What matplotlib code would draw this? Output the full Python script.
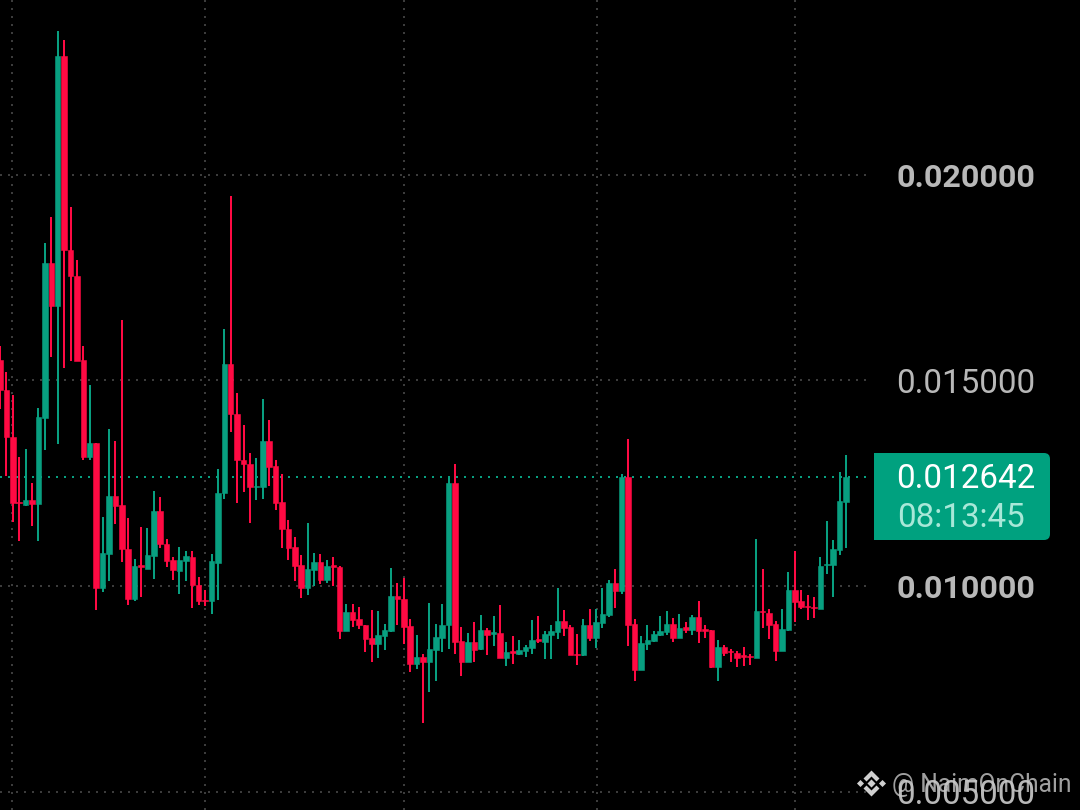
import matplotlib
matplotlib.use('Agg')
import matplotlib.pyplot as plt
from matplotlib.patches import FancyBboxPatch, Rectangle

# candle values, in millionths of a price unit
opens = [15503, 14770, 13628, 12051, 11958, 12088, 11986, 14074, 17860, 16802, 22881, 18157, 17526, 15503, 13146, 13471, 9954,
         10780, 12181, 11958, 10900, 9694, 10510, 10418, 10733, 11828, 11030, 10621, 10362, 10612, 10696, 10019, 9666,
         9644, 10566, 12249, 15388, 14174, 13058, 12977, 12411, 12411, 13535, 12912, 12039, 11375, 10938, 10502, 9951,
         10388, 10582, 10146, 10510, 10461, 8916, 9361, 9199, 9045, 8738, 8592, 8795, 8908, 9757, 9684,
         9020, 8096, 8267, 8145, 8437, 8728, 9044, 12495, 8655, 8145, 8631, 8461, 8923, 8825, 8850, 8242, 8412, 8340,
         8412, 8485, 8704, 8631, 8801, 8874, 9141, 8996, 8356, 8315, 9044, 8728, 9093, 9287, 10065, 9870, 12641,
         9068, 7951, 8582, 8655, 8801, 8874, 9068, 8728, 9004, 8923, 9239, 8947, 8923, 8024, 8510, 8421, 8364, 8315,
         8299, 8242, 9401, 9336, 9068, 8412, 8923, 9895, 9627, 9522, 9498, 9433, 10510, 10502, 10867, 12033]
closes = [14770, 13628, 12014, 12014, 12088, 11986, 14102, 17860, 16802, 22881, 18157, 17526, 15466, 13146, 13471, 9954, 10798,
          12181, 11940, 10900, 9694, 10483, 10473, 10752, 11828, 11030, 10612, 10390, 10621, 10724, 10028, 9647, 9638,
          10607, 12249, 15388, 14174, 13058, 12961, 12411, 12443, 13519, 12896, 12023, 11391, 10922, 10485, 9951, 10413,
          10582, 10146, 10485, 10469, 8916, 9361, 9175, 9053, 8722, 8592, 8811, 8932, 9757, 9693, 9013,
          8096, 8267, 8145, 8461, 8753, 9044, 12495, 8631, 8145, 8631, 8437, 8923, 8801, 8874, 8242, 8388, 8372, 8437,
          8510, 8680, 8663, 8825, 8898, 9141, 8971, 8315, 8315, 9044, 8728, 9117, 9311, 10065, 9870, 12641, 9044,
          7951, 8607, 8680, 8825, 8898, 9068, 8728, 8971, 8939, 9239, 8898, 8898, 8024, 8510, 8364, 8388, 8242, 8275,
          8267, 9384, 9368, 9044, 8412, 8947, 9895, 9603, 9482, 9490, 9465, 10478, 10543, 10891, 12057, 12642]
highs = [15837, 15206, 14631, 13127, 13332, 12496, 14334, 18343, 18974, 23484, 23261, 19206, 17925, 15837, 14891, 13480, 11689,
         13805, 13536, 16468, 11643, 10668, 11429, 11401, 12320, 12172, 11132, 10705, 10937, 10844, 10844, 10223, 9898,
         10769, 12856, 16254, 19490, 14700, 13924, 13244, 13123, 14538, 14029, 13074, 12734, 11602, 11181, 10744, 11521,
         10793, 10777, 10631, 10696, 10485, 9555, 9555, 9490, 9053, 9418, 9393, 9078, 10437, 10065, 10186,
         9190, 8801, 8340, 9579, 9068, 9554, 12665, 12957, 8996, 8850, 9117, 9287, 8971, 9263, 9530, 8631, 8777, 8680,
         8558, 9166, 9263, 8898, 9044, 9943, 9409, 9044, 8825, 9190, 9433, 9433, 9943, 10138, 10405, 12714, 13564,
         9190, 8777, 9044, 8898, 9263, 9384, 9214, 9311, 9117, 9287, 9627, 9044, 8923, 8680, 8558, 8461, 8412, 8510,
         8340, 11134, 10405, 9433, 9141, 9433, 10332, 10842, 9895, 9773, 9725, 10697, 11571, 11110, 12762, 13175]
lows = [14306, 12663, 11568, 11104, 11940, 11457, 11086, 13294, 15559, 13443, 15308, 15466, 15466, 13072, 13053, 9415, 9852,
        10121, 11503, 10594, 9527, 9638, 9731, 10409, 10176, 10919, 10473, 10158, 9805, 10130, 9462, 9527, 9508,
        9320, 9660, 12111, 13746, 12006, 12281, 11537, 12087, 12103, 12427, 11845, 10930, 10631, 10121, 9709, 9782,
        10000, 10049, 10065, 10000, 8714, 8916, 9005, 8956, 8398, 8164, 8253, 8447, 8884, 9053, 8592,
        7902, 7975, 6663, 7416, 7683, 8388, 8461, 8340, 7805, 8145, 8145, 8437, 8315, 8534, 8242, 8048, 8096, 8315,
        8267, 8340, 8607, 8218, 8218, 8704, 8777, 8315, 8072, 8291, 8655, 8485, 8971, 9239, 9457, 9797, 8534,
        7683, 7951, 8437, 8631, 8777, 8801, 8631, 8728, 8850, 8801, 8607, 8728, 8000, 7683, 8291, 8145, 8024, 8048,
        8072, 8242, 8980, 8704, 8169, 8412, 8898, 9117, 9433, 9166, 9214, 9433, 10284, 9725, 10745, 10915]

price_ticks = [0.020, 0.015, 0.010, 0.005]
price_labels = ['0.020000', '0.015000', '0.010000', '0.005000']
price_weights = ['bold', 'normal', 'bold', 'normal']
time_grid = [1.87, 32, 63, 93.1, 124]
last_price = 0.012642
countdown = '08:13:45'

GREEN = '#089F80'
RED = '#FF0A43'

fig = plt.figure(figsize=(10.8, 8.1), dpi=100, facecolor='black')
ax = fig.add_axes([0, 0, 1, 1], facecolor='black')
ax.set_xlim(0, 168.5)
ax.set_ylim(0.004555, 0.024245)
ax.axis('off')

# dotted grid, stops where the price scale starts
dots = (0, (1, 3))
for t in time_grid:
    ax.axvline(t, color='#3c3c3c', lw=1.44, linestyle=dots, zorder=1)
grid_end = 135.4 / 168.5
for p in price_ticks:
    ax.axhline(p, xmax=grid_end, color='#3c3c3c', lw=1.44, linestyle=dots, zorder=1)
ax.axhline(last_price, xmax=grid_end, color=GREEN, lw=1.44, linestyle=dots, zorder=1)

# candles
for i in range(len(opens)):
    o, c = opens[i] / 1e6, closes[i] / 1e6
    h, l = highs[i] / 1e6, lows[i] / 1e6
    col = GREEN if c >= o else RED
    ax.vlines(i, l, h, color=col, lw=1.44, zorder=2)
    ax.bar(i, abs(c - o), bottom=min(o, c), width=0.86, color=col, edgecolor=col, lw=0.4, zorder=3)

# price scale
for p, lab, w in zip(price_ticks, price_labels, price_weights):
    size = 23.2 if w == 'bold' else 23.9
    ax.annotate(lab, (1035 / 1080, p), xycoords=ax.get_yaxis_transform(), xytext=(0, -2.4),
                textcoords='offset points', ha='right', va='center',
                family='Roboto', fontsize=size, color='#b8b8b8', weight=w, zorder=4)

# overlay in pixels for the price tag and watermark
over = fig.add_axes([0, 0, 1, 1])
over.set_xlim(0, 1080)
over.set_ylim(810, 0)
over.axis('off')
over.patch.set_alpha(0)
over.add_patch(FancyBboxPatch((874, 453), 176, 87, boxstyle='round,pad=0,rounding_size=6', fc='#00A17F', ec='none'))
over.add_patch(Rectangle((874, 453), 20, 87, fc='#00A17F', ec='none'))
over.text(1035, 479, '%.6f' % last_price, ha='right', va='center', family='Roboto', fontsize=23.9, color='white')
over.text(1025, 518, countdown, ha='right', va='center', family='Roboto', fontsize=23.9, color='#A8E8D8')

# watermark logo: Binance style diamonds
logo_grey = '#d0d0d0'
over.scatter([871, 871], [778, 788], s=66, marker='D', c=logo_grey, linewidths=0, zorder=5)
over.scatter([871], [783], s=51, marker='D', c='black', linewidths=0, zorder=6)
over.scatter([871], [783], s=17, marker='D', c=logo_grey, linewidths=0, zorder=7)
over.scatter([860, 882], [783, 783], s=13, marker='D', c=logo_grey, linewidths=0, zorder=7)
over.text(1071, 785, '@ NaimOnChain', ha='right', va='center', family='Roboto', fontsize=17.7,
          color='#c8c8c8', alpha=0.8)

plt.savefig('out.png', dpi=100, facecolor='black')
